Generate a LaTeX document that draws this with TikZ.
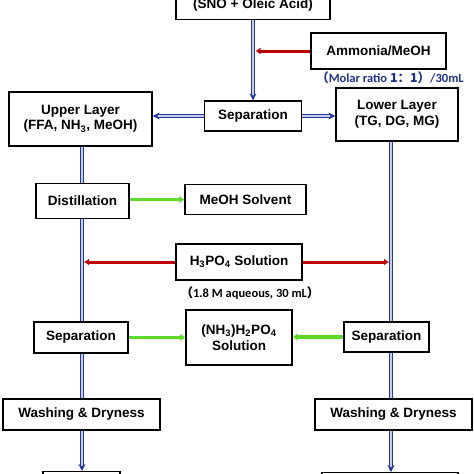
\documentclass[tikz,border=0pt]{standalone}
\usepackage{fontspec}
\setmainfont{Liberation Sans}
\newfontfamily\cjk{Noto Sans CJK SC}
\newfontfamily\calib{Carlito}
\usetikzlibrary{arrows.meta}
\definecolor{bleu}{RGB}{32,56,160}
\definecolor{rouge}{RGB}{192,0,0}
\definecolor{vert}{RGB}{90,220,40}
\definecolor{note}{RGB}{30,50,140}
\begin{document}
\begin{tikzpicture}[
      x=1pt, y=-1pt,
      etape/.style={
        draw,
        fill=white,
        line width=1.2pt,
        inner sep=0pt,
        align=center,
        font=\fontsize{13.5}{15.5}\selectfont\bfseries
      },
      flux/.style={
        draw=bleu,
        double=bleu!25,
        line width=1.4pt,
        double distance=1.3pt,
        -{Stealth[length=7pt,width=7pt]}
      },
      trait/.style={flux, -},
      ajout/.style={
        draw=rouge,
        line width=3pt,
        -{Latex[length=5pt,width=7pt]}
      },
      sortie/.style={
        draw=vert,
        line width=3.6pt,
        -{Latex[length=5pt,width=8pt]}
      },
      remarque/.style={
        font=\fontsize{12.5}{14}\selectfont\calib\bfseries
      }
    ]
    \useasboundingbox (0,0) rectangle (474,474);
    \node[coordinate] (colL) at (82,0) {};
    \node[coordinate] (colR) at (391,0) {};
    % haut
    \node[etape, anchor=south, minimum width=154pt, inner ysep=8pt] (sno) at (253,20) {\mbox{}\\(SNO + Oleic Acid)};
    \node[etape, minimum width=135pt, minimum height=36pt] (ammonia) at (378.5,51) {Ammonia/MeOH};
    \node[remarque, text=note] (molar) at (390,78) {{\cjk （}Molar ratio {\cjk 1：1）}/30mL};
    \node[etape, minimum width=97pt, minimum height=30pt] (sep) at (253,116) {Separation};
    \node[etape, minimum width=143pt, minimum height=54pt] (upper) at (80.5,119) {Upper Layer\\(FFA, NH\textsubscript{3}, MeOH)};
    \node[etape, minimum width=122pt, minimum height=53pt] (lower) at (397,114.5) {Lower Layer\\(TG, DG, MG)};
    % milieu
    \node[etape, minimum width=93pt, minimum height=35pt] (distil) at (82.5,201) {Distillation};
    \node[etape, minimum width=121pt, minimum height=30pt] (meoh) at (245.5,199.5) {MeOH Solvent};
    \node[etape, minimum width=126pt, minimum height=36pt] (acide) at (239,262) {H\textsubscript{3}PO\textsubscript{4} Solution};
    \node[remarque] (aqueous) at (250,293) {{\cjk （}1.8 M aqueous, 30 mL{\cjk ）}};
    \node[etape, minimum width=94pt, minimum height=31pt] (sepL) at (81,337.5) {Separation};
    \node[etape, minimum width=106pt, minimum height=55pt] (sel) at (239,337.5) {(NH\textsubscript{3})H\textsubscript{2}PO\textsubscript{4}\\Solution};
    \node[etape, minimum width=85pt, minimum height=30pt] (sepR) at (386.5,337) {Separation};
    % bas
    \node[etape, minimum width=157pt, minimum height=31pt] (washL) at (81.5,414.5) {Washing \& Dryness};
    \node[etape, minimum width=157pt, minimum height=31pt] (washR) at (393.5,414.5) {Washing \& Dryness};
    \node[etape, anchor=north, minimum width=77pt, minimum height=30pt] (resL) at (81.5,471) {};
    \node[etape, anchor=north, minimum width=136pt, minimum height=30pt] (resR) at (390,472) {};
    % fleches bleues
    \draw[flux] (sno.south) -- (sep.north);
    \draw[flux] (sep.west) -- (sep.west -| upper.east);
    \draw[flux] (sep.east) -- (sep.east -| lower.west);
    \draw[trait] (upper.south -| colL) -- (distil.north -| colL);
    \draw[trait] (distil.south -| colL) -- (sepL.north -| colL);
    \draw[trait] (sepL.south -| colL) -- (washL.north -| colL);
    \draw[flux] (washL.south -| colL) -- (resL.north -| colL);
    \draw[trait] (lower.south -| colR) -- (sepR.north -| colR);
    \draw[trait] (sepR.south -| colR) -- (washR.north -| colR);
    \draw[flux] (washR.south -| colR) -- (resR.north -| colR);
    % fleches rouges
    \draw[ajout, shorten >=2.5pt] (ammonia.west) -- (ammonia.west -| sep);
    \draw[ajout, shorten >=2pt] (acide.west) -- (acide.west -| colL);
    \draw[ajout, shorten >=2pt] (acide.east) -- (acide.east -| colR);
    % fleches vertes
    \draw[sortie] (meoh.west -| distil.east) -- (meoh.west);
    \draw[sortie] (sepL.east) -- (sepL.east -| sel.west);
    \draw[sortie] (sepR.west) -- (sepR.west -| sel.east);
  \end{tikzpicture}
\end{document}
